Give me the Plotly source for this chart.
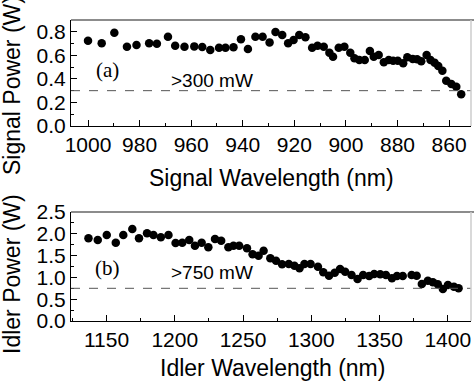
import plotly.graph_objects as go

W, H = 474, 384

# ---- data ----
signal_wl = [1000, 994.7, 989.8, 984.9, 981.2, 976.3, 973.3, 969, 966.2, 962.6, 958.8, 955.7,
             952.6, 949.2, 946.7, 943.6, 940.7, 938, 935.1, 932.3, 929.6, 927.3, 924.7, 922.4,
             920.3, 918.1, 915.7, 913.1, 911, 908.6, 906.4, 905, 902.8, 900.6, 898.3, 896.7,
             894.8, 892.7, 890.7, 889.2, 887.3, 885.3, 883.4, 881.7, 879.9, 877.8, 876.2,
             874.1, 872.4, 870.8, 868.7, 867.2, 865.6, 864.2, 862.6, 861.1, 859.1, 857.2, 855.3]
signal_pw = [0.724, 0.702, 0.792, 0.673, 0.688, 0.702, 0.699, 0.758, 0.682, 0.673, 0.676, 0.671,
             0.645, 0.665, 0.665, 0.668, 0.736, 0.654, 0.758, 0.758, 0.710, 0.798, 0.772, 0.702,
             0.730, 0.772, 0.753, 0.665, 0.682, 0.673, 0.622, 0.588, 0.665, 0.673, 0.622, 0.575,
             0.560, 0.560, 0.637, 0.588, 0.603, 0.541, 0.560, 0.554, 0.554, 0.532, 0.583,
             0.569, 0.566, 0.549, 0.603, 0.560, 0.537, 0.509, 0.469, 0.385, 0.357, 0.334, 0.269]

idler_wl = [1136.8, 1143.6, 1150.2, 1156.8, 1162.3, 1168.9, 1173.8, 1179.7, 1184.4, 1189.8,
            1195.4, 1200.6, 1205.5, 1210.6, 1214.8, 1219.7, 1224.6, 1229.5, 1234, 1239.3,
            1243, 1247.2, 1252.9, 1257, 1261.4, 1265.1, 1270, 1274.2, 1278.6, 1283.5,
            1287.7, 1291.4, 1295, 1299.5, 1304.9, 1308.8, 1313, 1317.2, 1321.1, 1324.8,
            1329.5, 1333.9, 1338, 1342.4, 1346.1, 1350.5, 1354.7, 1359.1, 1362.8, 1367,
            1373.5, 1377.2, 1381, 1385.4, 1389.1, 1392.7, 1396.4, 1400.1, 1404.5, 1407.9]
idler_pw = [1.896, 1.858, 1.972, 1.796, 1.972, 2.110, 1.896, 2.011, 1.972, 1.919,
            1.972, 1.789, 1.796, 1.858, 1.727, 1.796, 1.690, 1.881, 1.842, 1.690,
            1.727, 1.727, 1.667, 1.530, 1.498, 1.612, 1.438, 1.383, 1.300, 1.307,
            1.268, 1.209, 1.307, 1.307, 1.245, 1.117, 1.039, 1.108, 1.193, 1.131,
            1.055, 0.963, 1.055, 1.032, 1.078, 1.071, 1.055, 0.979, 1.032, 1.032,
            1.055, 1.039, 0.849, 0.924, 0.888, 0.842, 0.734, 0.826, 0.787, 0.750]

signal_threshold = 0.3
idler_threshold = 0.75
signal_ticks = [1000, 980, 960, 940, 920, 900, 880, 860]
idler_ticks = [1150, 1200, 1250, 1300, 1350, 1400]

# ---- layout helpers ----
def px(x):
    return x / W

def py(y):
    return 1 - y / H

FONT = "Liberation Sans, Arial, sans-serif"
SERIF = "Liberation Serif, Times New Roman, serif"

fig = go.Figure()
marker = dict(color="black", size=8.5, line=dict(width=0))
fig.add_trace(go.Scatter(x=signal_wl, y=signal_pw, mode="markers", marker=marker,
                         xaxis="x", yaxis="y", showlegend=False))
fig.add_trace(go.Scatter(x=idler_wl, y=idler_pw, mode="markers", marker=marker,
                         xaxis="x2", yaxis="y2", showlegend=False))

common_axis = dict(showgrid=False, zeroline=False, showline=True, linecolor="black",
                   linewidth=1.2, ticks="inside", ticklen=6, tickwidth=1.2, tickcolor="black",
                   tickfont=dict(family=FONT, size=21, color="black"), automargin=False)

xdom = [px(71), px(471)]
fig.update_layout(
    width=W, height=H,
    margin=dict(l=0, r=0, t=0, b=0),
    paper_bgcolor="white", plot_bgcolor="white",
    xaxis=dict(domain=xdom, range=[1006.6, 851.5], tickvals=signal_ticks,
               minor=dict(ticks="inside", ticklen=3, dtick=10, tickcolor="black", tick0=0),
               anchor="y", **common_axis),
    yaxis=dict(domain=[py(126), py(20)], range=[0, 0.9], dtick=0.2, tickformat=".1f",
               minor=dict(ticks="inside", ticklen=3, dtick=0.1, tickcolor="black"),
               anchor="x", **common_axis),
    xaxis2=dict(domain=xdom, range=[1124, 1417], tickvals=idler_ticks,
                minor=dict(ticks="inside", ticklen=3, dtick=25, tickcolor="black", tick0=0),
                anchor="y2", **common_axis),
    yaxis2=dict(domain=[py(321), py(212)], range=[0, 2.5], dtick=0.5, tickformat=".1f",
                minor=dict(ticks="inside", ticklen=3, dtick=0.25, tickcolor="black"),
                anchor="x2", **common_axis),
)

shapes = []
for xr, yr, th, (top, bot) in [("x", "y", signal_threshold, (20, 126)),
                               ("x2", "y2", idler_threshold, (212, 321))]:
    shapes.append(dict(type="line", xref=xr + " domain", yref=yr, x0=0, x1=1, y0=th, y1=th,
                       line=dict(color="#555555", width=1, dash="dash")))
    shapes.append(dict(type="line", xref="paper", yref="paper", x0=px(71), x1=1, y0=py(top), y1=py(top),
                       line=dict(color="#666666", width=1.5)))
    shapes.append(dict(type="line", xref="paper", yref="paper", x0=px(471), x1=px(471), y0=py(top), y1=py(bot),
                       line=dict(color="#cccccc", width=1.5)))
fig.update_layout(shapes=shapes)

def ann(text, x, y, size, family=FONT, angle=0):
    fig.add_annotation(text=text, x=px(x), y=py(y), xref="paper", yref="paper",
                       showarrow=False, xanchor="center", yanchor="middle", textangle=angle,
                       font=dict(family=family, size=size, color="black"))

ann("Signal Wavelength (nm)", 271, 178, 23)
ann("Idler Wavelength (nm)", 272, 368, 23)
ann("Signal Power (W)", 12, 86, 23, angle=-90)
ann("Idler Power (W)", 12, 274, 23, angle=-90)
ann("(a)", 107, 70, 21, family=SERIF)
ann("(b)", 107, 268, 21, family=SERIF)
ann("&gt;300 mW", 212, 80, 19)
ann("&gt;750 mW", 212, 272, 19)

fig.write_html("out.html", config={"displayModeBar": False},
               post_script="document.body.style.margin='0';document.body.style.overflow='hidden';")
